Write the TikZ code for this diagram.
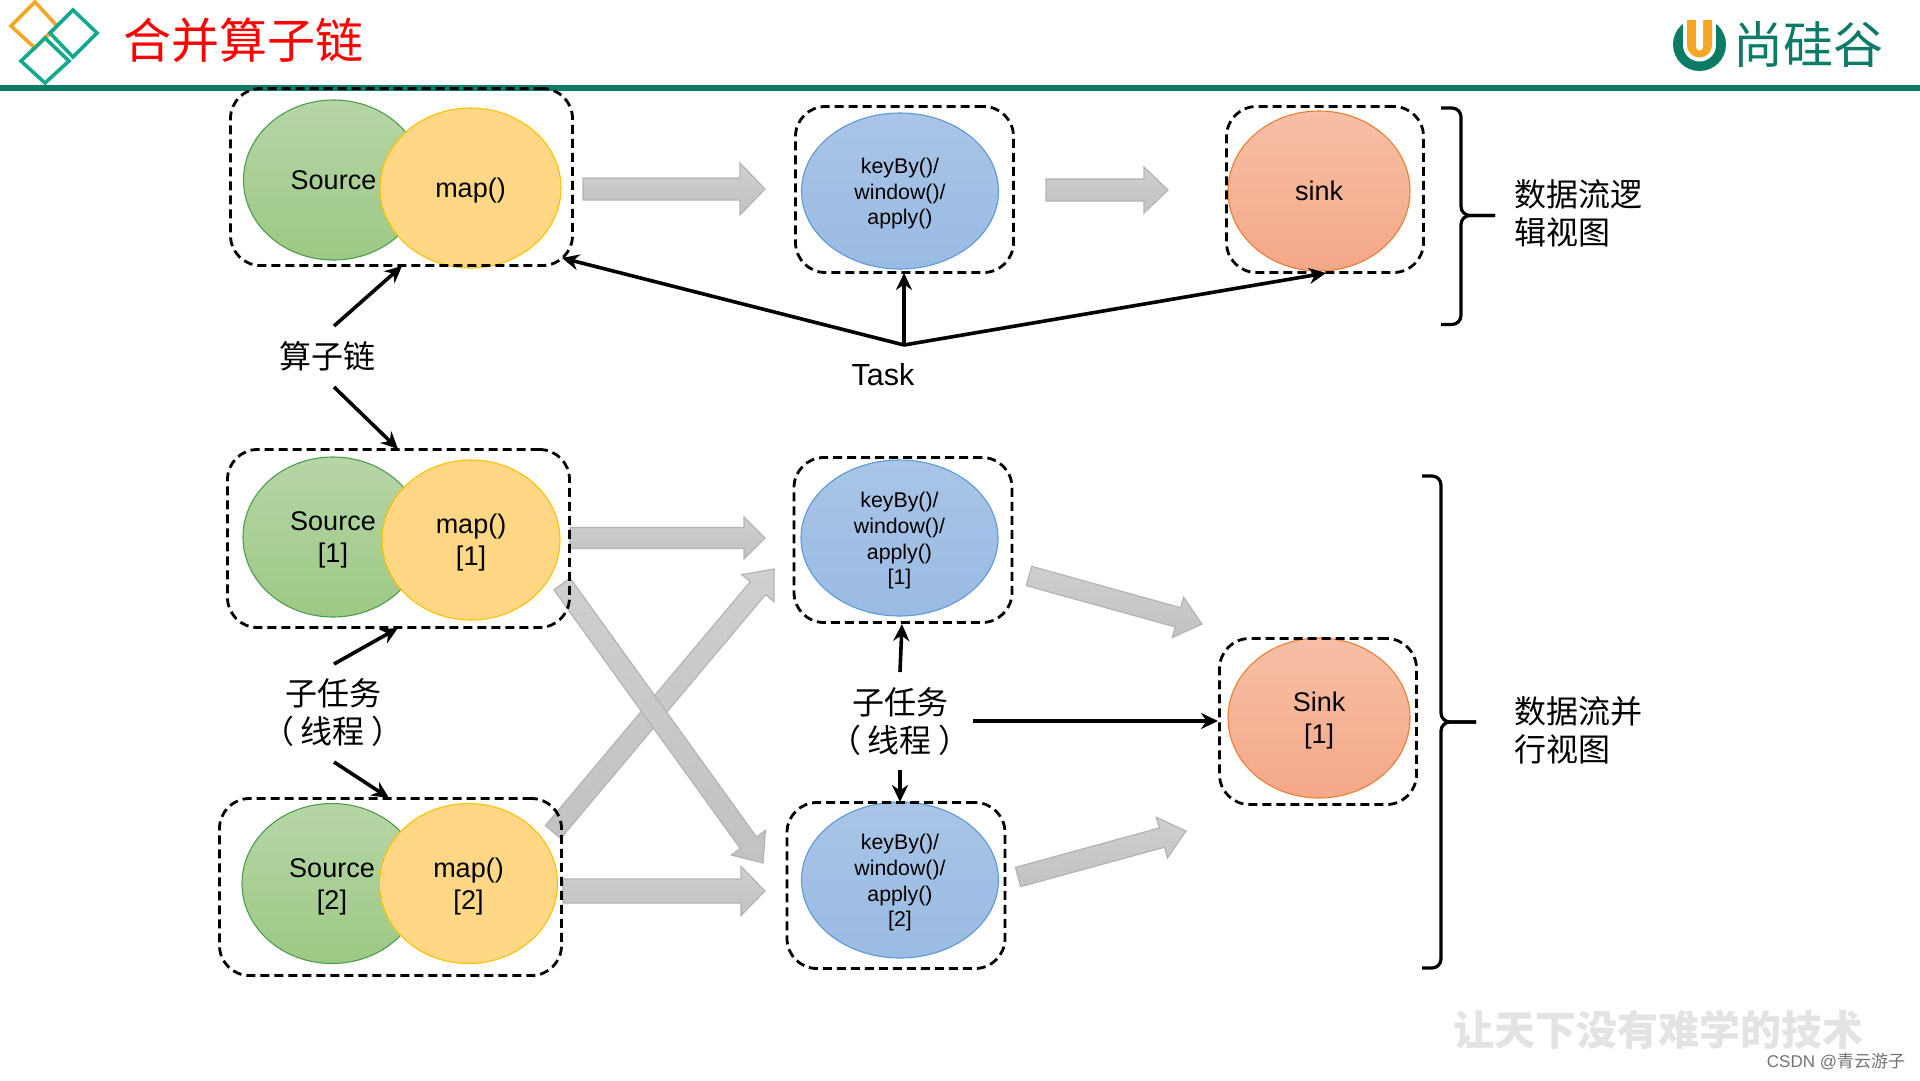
\documentclass[tikz,border=0pt]{standalone}
\usepackage{fontspec}
\setmainfont{Liberation Sans}
\newfontfamily\cjk{Noto Sans CJK SC}
\usetikzlibrary{calc,arrows.meta,shapes.geometric}
\definecolor{headteal}{HTML}{0B7B66}
\definecolor{diateal}{HTML}{13A98F}
\definecolor{diaorange}{HTML}{F5A623}
\tikzset{
  x=1pt,y=-1pt,
  blob/.style={ellipse,draw,inner sep=0pt,align=center,line width=1.1pt},
  greenblob/.style={blob,minimum width=180pt,minimum height=160pt,draw=green!45!black!70!white,top color=green1,bottom color=green2,font=\fontsize{27}{32}\selectfont},
  orangeblob/.style={blob,minimum width=178pt,minimum height=160pt,draw=orangeline,top color=orange1,bottom color=orange1,font=\fontsize{27}{32}\selectfont},
  blueblob/.style={blob,minimum width=197pt,minimum height=156pt,draw=blueline,top color=blue1,bottom color=blue2,font=\fontsize{21.3}{25.7}\selectfont},
  salmonblob/.style={blob,minimum width=182pt,minimum height=160pt,draw=salmonline,top color=salmon1,bottom color=salmon2,font=\fontsize{27}{32}\selectfont},
  taskbox/.style={draw=black,line width=2.8pt,dash pattern=on 9pt off 5pt,rounded corners=30pt,inner sep=0pt},
  blackarrow/.style={draw=black,line width=3.6pt,-{Stealth[length=17pt,width=16pt]}},
  bracket/.style={draw=black,line width=3.2pt,rounded corners=9pt},
  cjklabel/.style={font=\cjk\fontsize{32}{38}\selectfont,align=left,inner sep=0pt},
  midlabel/.style={font=\cjk\fontsize{32}{38}\selectfont,align=center,inner sep=0pt},
  greyarrow/.style={draw=greyline,line width=1.2pt,top color=grey1,bottom color=grey2,line join=miter},
  diamondline/.style={line width=3.6pt,line join=miter}
}
\definecolor{green1}{HTML}{B6D5A6}
\definecolor{green2}{HTML}{9DC985}
\definecolor{orange1}{HTML}{FFD785}
\definecolor{orangeline}{HTML}{FFC000}
\definecolor{blue1}{HTML}{A9C4E6}
\definecolor{blue2}{HTML}{9ABBE3}
\definecolor{blueline}{HTML}{5B9BD5}
\definecolor{salmon1}{HTML}{F7BFA6}
\definecolor{salmon2}{HTML}{F4A888}
\definecolor{salmonline}{HTML}{ED7D31}
\definecolor{grey1}{HTML}{CFCFCF}
\definecolor{grey2}{HTML}{C2C2C2}
\definecolor{greyline}{HTML}{B4B4B4}
% from, to, half shaft, half head, head length
\newcommand{\blockarrow}[5]{%
  \draw[greyarrow]
    ($(#1)!#3pt!90:(#2)$) -- ($(#2)!#5pt!(#1)!#3pt!90:(#2)$) --
    ($(#2)!#5pt!(#1)!#4pt!90:(#2)$) -- (#2) --
    ($(#2)!#5pt!(#1)!#4pt!-90:(#2)$) -- ($(#2)!#5pt!(#1)!#3pt!-90:(#2)$) --
    ($(#1)!#3pt!-90:(#2)$) -- cycle;}
\newcommand{\bigdown}{\rule{0pt}{25pt}}
\newcommand{\smalldown}{\rule{0pt}{21pt}}
\newcommand{\parengap}{\hskip 7pt}
\begin{document}
\begin{tikzpicture}
\useasboundingbox (0,0) rectangle (1920,1080);
\fill[white] (0,0) rectangle (1920,1080);
% header
\fill[headteal] (0,85) rectangle (1920,91);
\draw[diaorange,diamondline] (35,2) -- (57,26) -- (35,48) -- (11,26) -- cycle;
\draw[diateal,diamondline] (73,10) -- (97,33) -- (73,57) -- (50,33) -- cycle;
\draw[diateal,diamondline] (45,38) -- (69,61) -- (45,83) -- (21,61) -- cycle;
\node[font=\cjk\fontsize{48}{50}\selectfont,text=red,inner sep=0pt] (title) at (243,40) {合并算子链};
% logo
\fill[headteal] (1699.5,44.5) circle (26.5);
\fill[white] (1683,15) rectangle (1716,45);
\fill[white] (1699.5,45) circle (16.5);
\fill[diaorange] (1687,20) -- (1712,20) -- (1712,45) arc[start angle=0,end angle=-180,x radius=12.5pt,y radius=12.5pt] -- cycle;
\fill[white] (1696,20) -- (1703,20) -- (1703,47) arc[start angle=0,end angle=-180,x radius=3.5pt,y radius=3.5pt] -- cycle;
\node[font=\cjk\fontsize{50}{52}\selectfont,text=headteal,inner sep=0pt] (logotext) at (1808,45) {尚硅谷};
% watermark
\node[font=\cjk\bfseries\fontsize{41}{44}\selectfont,text=black!11,inner sep=0pt] (wm) at (1658,1030) {让天下没有难学的技术};
\node[font=\fontsize{17}{20}\selectfont,text=black!55,inner sep=0pt] (csdn) at (1836,1062) {CSDN @{\cjk 青云游子}};
% grey block arrows
\coordinate (ga1s) at (583,189); \coordinate (ga1e) at (765,189);
\coordinate (ga2s) at (1046,190); \coordinate (ga2e) at (1168,190);
\coordinate (ga3s) at (570,538); \coordinate (ga3e) at (765,538);
\coordinate (ga4s) at (562,584); \coordinate (ga4e) at (763,863);
\coordinate (ga5s) at (553,832); \coordinate (ga5e) at (774,569);
\coordinate (ga6s) at (563,891); \coordinate (ga6e) at (765,891);
\coordinate (ga7s) at (1029,576); \coordinate (ga7e) at (1202,624);
\coordinate (ga8s) at (1018,877); \coordinate (ga8e) at (1186,831);
\blockarrow{ga1s}{ga1e}{11}{26}{25}
\blockarrow{ga2s}{ga2e}{11}{23}{24}
\blockarrow{ga3s}{ga3e}{10.5}{21}{21}
\blockarrow{ga5s}{ga5e}{10}{21}{25}
\blockarrow{ga4s}{ga4e}{10}{21}{25}
\blockarrow{ga6s}{ga6e}{12}{24.5}{24}
\blockarrow{ga7s}{ga7e}{10}{21}{25}
\blockarrow{ga8s}{ga8e}{10}{21}{25}
% row 1
\node[greenblob] (src0) at (333.5,180) {Source};
\node[orangeblob,minimum width=181pt] (map0) at (470.5,188) {\bigdown map()};
\node[blueblob] (key0) at (900,191) {\smalldown keyBy()/\\window()/\\apply()};
\node[salmonblob] (sink0) at (1319,191) {sink};
% row 2
\node[greenblob] (src1) at (333,537) {\bigdown Source\\{}[1]};
\node[orangeblob] (map1) at (471,540) {\bigdown map()\\{}[1]};
\node[blueblob] (key1) at (899.5,538) {\smalldown keyBy()/\\window()/\\apply()\\{}[1]};
% row 3
\node[greenblob] (src2) at (332,883.5) {\bigdown Source\\{}[2]};
\node[orangeblob] (map2) at (468.5,883.5) {\bigdown map()\\{}[2]};
\node[blueblob] (key2) at (900,880) {\smalldown keyBy()/\\window()/\\apply()\\{}[2]};
\node[salmonblob] (sink1) at (1319,718) {\bigdown Sink\\{}[1]};
% dashed task boxes
\node[taskbox,minimum width=342pt,minimum height=177pt] (box0) at (401.5,177) {};
\node[taskbox,minimum width=218pt,minimum height=166pt] (box1) at (904.5,189.5) {};
\node[taskbox,minimum width=197pt,minimum height=166pt] (box2) at (1325,189.5) {};
\node[taskbox,minimum width=342pt,minimum height=178pt] (box3) at (398.5,538.5) {};
\node[taskbox,minimum width=218pt,minimum height=165pt] (box4) at (903,540) {};
\node[taskbox,minimum width=342pt,minimum height=177pt] (box5) at (390.5,887) {};
\node[taskbox,minimum width=218pt,minimum height=166pt] (box6) at (896,885.5) {};
\node[taskbox,minimum width=197pt,minimum height=166pt] (box7) at (1318,721.5) {};
% brackets
\draw[bracket] (1441,108) -- (1461,108) -- (1461,215.5) -- (1495,215.5);
\draw[bracket] (1495,215.5) -- (1461,215.5) -- (1461,324.5) -- (1441,324.5);
\draw[bracket] (1422,476) -- (1441,476) -- (1441,722) -- (1476,722);
\draw[bracket] (1476,722) -- (1441,722) -- (1441,968) -- (1422,968);
% labels
\node[cjklabel,anchor=west] (lbltop) at (1514,213) {数据流逻\\辑视图};
\node[cjklabel,anchor=west] (lblbot) at (1514,730) {数据流并\\行视图};
\node[midlabel] (lblchain) at (327,356) {算子链};
\node[font=\fontsize{30.5}{34}\selectfont,inner sep=0pt] (lbltask) at (883,375) {Task};
\node[midlabel] (lblsub1) at (333,713) {子任务\\（\parengap 线程\parengap ）};
\node[midlabel] (lblsub2) at (900,722) {子任务\\（\parengap 线程\parengap ）};
% black arrows
\coordinate (c1s) at (334,326); \coordinate (c1e) at (402,266);
\coordinate (c2s) at (334,387); \coordinate (c2e) at (398,449);
\draw[blackarrow] (c1s) -- (c1e);
\draw[blackarrow] (c2s) -- (c2e);
\coordinate (th) at (904,345);
\coordinate (t1) at (562,258); \coordinate (t2) at (904,273); \coordinate (t3) at (1326,273);
\draw[blackarrow] (th) -- (t1);
\draw[blackarrow] (th) -- (t2);
\draw[blackarrow] (th) -- (t3);
\coordinate (s1s) at (334,664); \coordinate (s1e) at (398,628);
\coordinate (s2s) at (334,762); \coordinate (s2e) at (389,798);
\draw[blackarrow] (s1s) -- (s1e);
\draw[blackarrow] (s2s) -- (s2e);
\coordinate (m1s) at (900,672); \coordinate (m1e) at (902,624);
\coordinate (m2s) at (900,770); \coordinate (m2e) at (900,802);
\coordinate (m3s) at (973,721); \coordinate (m3e) at (1218,721);
\draw[blackarrow] (m1s) -- (m1e);
\draw[blackarrow] (m2s) -- (m2e);
\draw[blackarrow] (m3s) -- (m3e);
\end{tikzpicture}
\end{document}
